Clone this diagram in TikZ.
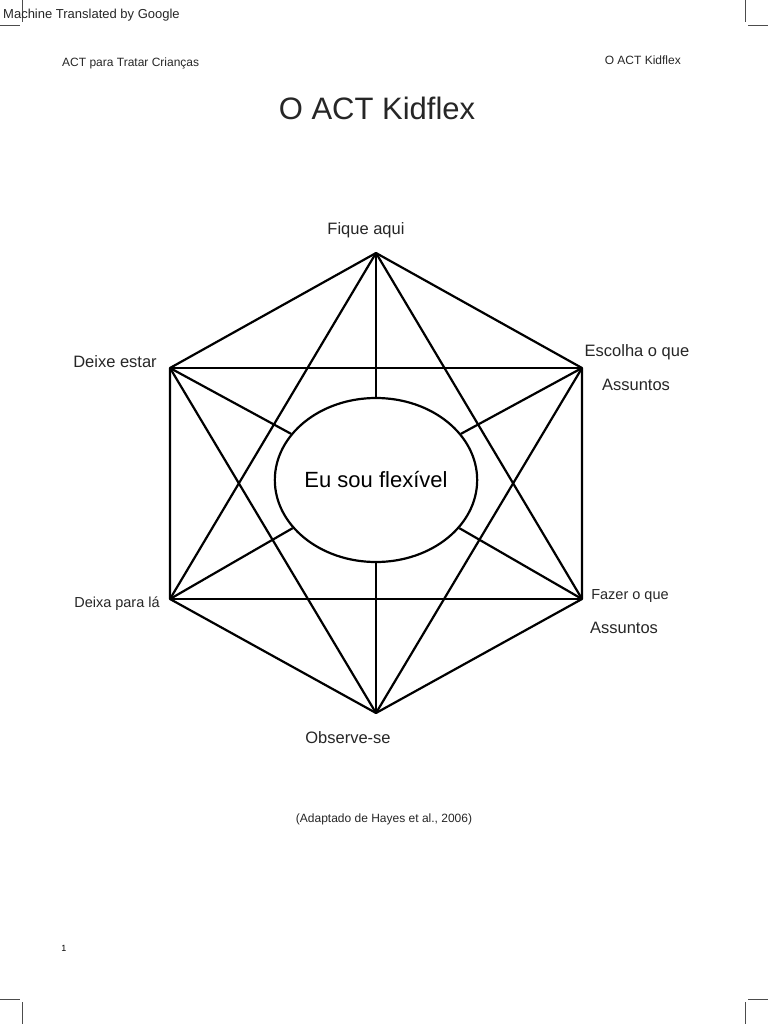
\documentclass[tikz,border=0pt]{standalone}
\usepackage{fontspec}
\setmainfont{Liberation Sans}
\usetikzlibrary{shapes.geometric}
\begin{document}
\begin{tikzpicture}[x=1pt,y=-1pt,
  edge/.style={line width=2.2pt,line join=round},
  lbl/.style={font=\fontsize{16.5}{19}\selectfont,text=black!85},
  small/.style={font=\fontsize{13}{15}\selectfont,text=black!85},
  cropmark/.style={line width=0.6pt,black!70}]
\useasboundingbox (0,0) rectangle (768,1024);
% crop marks
\draw[cropmark] (22,0)--(22,22) (0,25)--(20,25);
\draw[cropmark] (745,0)--(745,22) (748,25)--(768,25);
\draw[cropmark] (22,1002)--(22,1024) (0,999)--(20,999);
\draw[cropmark] (745,1002)--(745,1024) (748,999)--(768,999);
\node[small,anchor=west,inner sep=0pt] (mt) at (3,15) {Machine Translated by Google};
\node[small,anchor=west,inner sep=0pt,font=\fontsize{12}{14}\selectfont] (hl) at (62,63) {ACT para Tratar Crianças};
\node[small,anchor=east,inner sep=0pt,font=\fontsize{12}{14}\selectfont] (hr) at (681,60) {O ACT Kidflex};
\node[font=\fontsize{31}{36}\selectfont,text=black!85] (title) at (377,108) {O ACT Kidflex};
% vertices
\coordinate (T) at (376,253);
\coordinate (UL) at (170,368);
\coordinate (UR) at (582,368);
\coordinate (LL) at (170,599);
\coordinate (LR) at (582,599);
\coordinate (B) at (376,713);
\node[draw,line width=2.2pt,ellipse,minimum width=190pt,minimum height=164pt,inner sep=0pt,
  font=\fontsize{22}{26}\selectfont] (c) at (376,480) {Eu sou flexível};
\draw[edge] (T)--(UR)--(LR)--(B)--(LL)--(UL)--cycle;
\draw[edge] (UL)--(UR) (LL)--(LR);
\draw[edge] (T)--(LL) (T)--(LR) (B)--(UL) (B)--(UR);
\foreach \v in {T,UL,UR,LL,LR,B} \draw[edge] (\v)--(c);
\node[lbl] (l1) at (366,230) {Fique aqui};
\node[lbl] (l2) at (115,362) {Deixe estar};
\node[lbl] (l3) at (637,352) {Escolha o que};
\node[lbl] (l3b) at (636,385) {Assuntos};
\node[lbl,font=\fontsize{14.5}{17}\selectfont] (l4) at (117,604) {Deixa para lá};
\node[lbl,font=\fontsize{14.5}{17}\selectfont] (l5) at (630,596) {Fazer o que};
\node[lbl] (l5b) at (624,628) {Assuntos};
\node[lbl] (l6) at (348,738) {Observe-se};
\node[small,font=\fontsize{12}{14}\selectfont] (src) at (384,819) {(Adaptado de Hayes et al., 2006)};
\node[font=\fontsize{9}{10}\selectfont] (pg) at (64,948) {1};
\end{tikzpicture}
\end{document}
